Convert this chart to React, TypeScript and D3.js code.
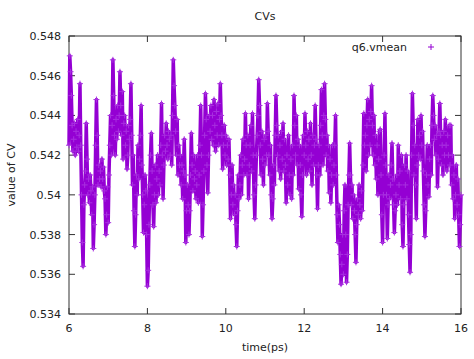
import React from 'react';
import * as d3 from 'd3';

const TITLE = 'CVs';
const SERIES_NAME = 'q6.vmean';
const X_LABEL = 'time(ps)';
const Y_LABEL = 'value of CV';
const T_START = 6;
const T_END = 16;
const X_TICKS = [6, 8, 10, 12, 14, 16];
const Y_TICKS = [0.534, 0.536, 0.538, 0.54, 0.542, 0.544, 0.546, 0.548];
const Y_TICK_LABELS = ['0.534', '0.536', '0.538', '0.54', '0.542', '0.544', '0.546', '0.548'];

const CV_E4 = [
  5425, 5470, 5462, 5450, 5435, 5422, 5428, 5436, 5420, 5432, 5424, 5438, 5422, 5430,
  5456, 5425, 5400, 5376, 5364, 5395,
  5405, 5412, 5436, 5418, 5400, 5408, 5396,
  5410, 5402, 5390, 5404, 5373, 5385,
  5400, 5425, 5448, 5430, 5405, 5415, 5408,
  5412, 5404, 5418, 5408, 5414, 5402,
  5398, 5380, 5390, 5404, 5386, 5410,
  5425, 5440, 5420, 5435, 5468, 5450, 5430,
  5420, 5438, 5428, 5445, 5432, 5440,
  5462, 5445, 5430, 5452, 5418, 5436,
  5440, 5425, 5432, 5413, 5420, 5435, 5428,
  5438, 5456, 5430, 5405, 5420, 5392,
  5374, 5390, 5410, 5400, 5425, 5408, 5418,
  5430, 5445, 5415, 5400, 5381, 5395,
  5410, 5402, 5380, 5354, 5362, 5385,
  5405, 5420, 5431, 5412, 5395, 5384, 5400,
  5415, 5396, 5408, 5420, 5400, 5412,
  5405, 5425, 5446, 5420, 5398, 5415, 5430,
  5422, 5436, 5425, 5418, 5432, 5428,
  5420, 5430, 5415, 5440, 5468, 5455,
  5445, 5432, 5420, 5438, 5410, 5425, 5415,
  5420, 5405, 5415, 5398, 5412, 5428,
  5410, 5376, 5392, 5405, 5395, 5380,
  5392, 5410, 5431, 5415, 5402, 5420, 5408,
  5412, 5398, 5405, 5420, 5396, 5410,
  5425, 5445, 5420, 5379, 5395, 5412,
  5430, 5451, 5438, 5415, 5401, 5420, 5440,
  5432, 5445, 5428, 5440, 5425, 5448,
  5435, 5422, 5442, 5430, 5446, 5425, 5438,
  5456, 5440, 5430, 5413, 5425, 5435,
  5420, 5430, 5415, 5425, 5418, 5428,
  5410, 5388, 5400, 5415, 5395, 5405, 5390,
  5400, 5385, 5374, 5392, 5410, 5398,
  5405, 5420, 5400, 5415, 5428, 5410,
  5418, 5441, 5425, 5410, 5430, 5398, 5415,
  5425, 5435, 5412, 5441, 5420, 5400,
  5388, 5405, 5420, 5430, 5440, 5458, 5445,
  5425, 5410, 5432, 5418, 5405, 5428,
  5415, 5430, 5420, 5446, 5432, 5420,
  5410, 5425, 5400, 5388, 5398, 5415, 5405,
  5430, 5450, 5435, 5420, 5430, 5412,
  5425, 5408, 5432, 5418, 5436, 5412, 5428,
  5415, 5396, 5420, 5405, 5430, 5410,
  5400, 5418, 5398, 5425, 5410, 5450,
  5435, 5420, 5440, 5415, 5428, 5403, 5425,
  5415, 5400, 5389, 5410, 5430, 5420,
  5441, 5425, 5410, 5432, 5418, 5428,
  5412, 5436, 5420, 5405, 5430, 5415, 5425,
  5445, 5428, 5410, 5393, 5415, 5425,
  5410, 5435, 5453, 5430, 5415, 5440, 5456,
  5438, 5420, 5430, 5412, 5425, 5401,
  5418, 5396, 5410, 5425, 5405, 5415,
  5425, 5440, 5410, 5390, 5376, 5395, 5385,
  5370, 5355, 5365, 5380, 5360, 5392,
  5405, 5380, 5356, 5370, 5395, 5410,
  5426, 5410, 5395, 5405, 5388, 5400, 5392,
  5380, 5366, 5385, 5398, 5390, 5405,
  5395, 5388, 5402, 5392, 5415, 5441, 5425,
  5430, 5412, 5435, 5448, 5420, 5438,
  5425, 5442, 5455, 5435, 5420, 5440, 5415,
  5430, 5408, 5425, 5400, 5418, 5432,
  5433, 5410, 5390, 5376, 5400, 5420, 5441,
  5415, 5400, 5378, 5395, 5410, 5398,
  5405, 5415, 5426, 5408, 5395, 5381, 5392,
  5400, 5410, 5395, 5425, 5405, 5412,
  5398, 5420, 5385, 5374, 5395, 5415,
  5405, 5420, 5398, 5412, 5390, 5375, 5361,
  5380, 5420, 5451, 5435, 5410, 5425,
  5405, 5388, 5415, 5438, 5420, 5430,
  5418, 5440, 5425, 5432, 5412, 5395, 5379,
  5392, 5410, 5425, 5405, 5399, 5418,
  5425, 5410, 5435, 5450, 5440, 5428,
  5435, 5420, 5430, 5404, 5418, 5432, 5446,
  5430, 5415, 5425, 5410, 5432, 5420,
  5438, 5425, 5412, 5430, 5420, 5435,
  5415, 5435, 5405, 5420, 5398, 5410, 5388,
  5400, 5415, 5395, 5408, 5390, 5374, 5385, 5400,
];

const W = 474;
const H = 359;
const M = { left: 69, right: 461, top: 36, bottom: 314 };
const COLOR = '#9400d3';
const FONT = "'DejaVu Sans', sans-serif";

export default function App() {
  const x = d3.scaleLinear().domain([T_START, T_END]).range([M.left, M.right]);
  const y = d3.scaleLinear().domain([Y_TICKS[0], Y_TICKS[Y_TICKS.length - 1]]).range([M.bottom, M.top]);
  const n = CV_E4.length;
  const step = (T_END - T_START) / (n - 1);
  const data = CV_E4.map((v, i) => ({ t: T_START + i * step, v: v / 10000 }));
  const arm = 3;
  const plusPath = (px: number, py: number) => `M${px - arm},${py}h${2 * arm}M${px},${py - arm}v${2 * arm}`;
  const pointsD = data.map((d) => plusPath(x(d.t), y(d.v))).join('');
  const traceD = d3.line<{ t: number; v: number }>().x((d) => x(d.t)).y((d) => y(d.v))(data) || '';
  const tickLen = 6;
  const axisColor = '#333';

  return (
    <svg width={W} height={H} style={{ position: 'absolute', left: 0, top: 0, background: '#fff' }} fontFamily={FONT}>
      <rect x={0} y={0} width={W} height={H} fill="#fff" />
      <text x={(M.left + M.right) / 2} y={20} textAnchor="middle" fontSize={11} fill="#222">{TITLE}</text>
      {X_TICKS.map((t) => (
        <g key={'xt' + t}>
          <line x1={x(t)} x2={x(t)} y1={M.bottom} y2={M.bottom - tickLen} stroke={axisColor} strokeWidth={1} />
          <line x1={x(t)} x2={x(t)} y1={M.top} y2={M.top + tickLen} stroke={axisColor} strokeWidth={1} />
          <text x={x(t)} y={332} textAnchor="middle" fontSize={11} fill="#222">{t}</text>
        </g>
      ))}
      {Y_TICKS.map((v, i) => (
        <g key={'yt' + v}>
          <line x1={M.left} x2={M.left + tickLen} y1={y(v)} y2={y(v)} stroke={axisColor} strokeWidth={1} />
          <line x1={M.right} x2={M.right - tickLen} y1={y(v)} y2={y(v)} stroke={axisColor} strokeWidth={1} />
          <text x={61} y={y(v) + 4} textAnchor="end" fontSize={11} fill="#222">{Y_TICK_LABELS[i]}</text>
        </g>
      ))}
      <rect x={M.left} y={M.top} width={M.right - M.left} height={M.bottom - M.top} fill="none" stroke={axisColor} strokeWidth={1} />
      <text x={(M.left + M.right) / 2} y={351} textAnchor="middle" fontSize={11} fill="#222">{X_LABEL}</text>
      <text transform={`translate(15,${(M.top + M.bottom) / 2}) rotate(-90)`} textAnchor="middle" fontSize={11} fill="#222">{Y_LABEL}</text>
      <text x={407} y={51} textAnchor="end" fontSize={11} fill="#222">{SERIES_NAME}</text>
      <path d={plusPath(431, 47)} stroke={COLOR} strokeWidth={1} fill="none" />
      <path d={traceD} stroke={COLOR} strokeWidth={3.5} strokeLinejoin="round" fill="none" />
      <path d={pointsD} stroke="#a830e0" strokeWidth={1} fill="none" />
    </svg>
  );
}
